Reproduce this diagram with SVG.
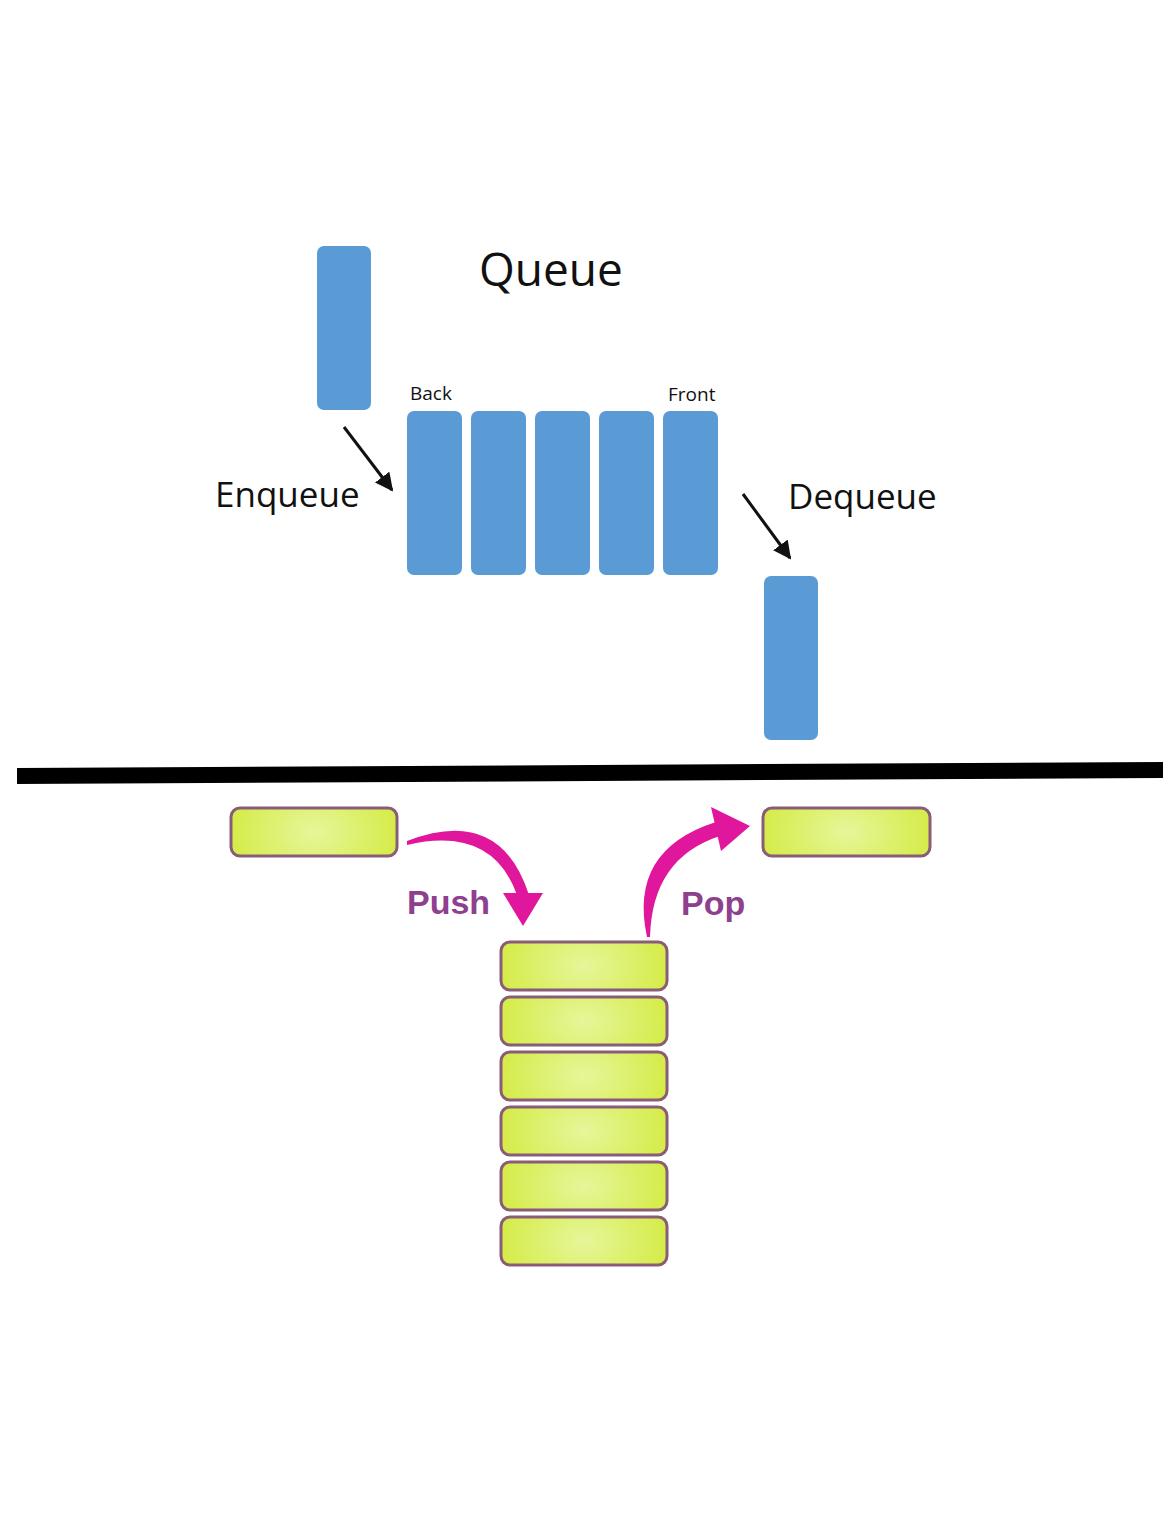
<svg xmlns="http://www.w3.org/2000/svg" width="1164" height="1536" viewBox="0 0 1164 1536">
<defs>
<style>
.blue{fill:#5b9bd5}
.lbl{font-family:"Open Sans","Liberation Sans",sans-serif;fill:#111}
.green{fill:url(#gg);stroke:#8a5c78;stroke-width:3}
.pp{font-family:"Liberation Sans",Arial,sans-serif;font-weight:bold;fill:#8e3f8e;font-size:34px}
.mag{fill:#e0169c}
</style>
<radialGradient id="gg" cx="0.5" cy="0.5" r="0.6" gradientTransform="translate(0.5 0.5) scale(1 2.5) translate(-0.5 -0.5)">
<stop offset="0" stop-color="#e6f69a"/>
<stop offset="1" stop-color="#d2ea3a"/>
</radialGradient>
<marker id="ah" viewBox="0 0 10 10" refX="9" refY="5" markerWidth="6" markerHeight="6" orient="auto">
<path d="M0,0 L10,5 L0,10 z" fill="#111"/>
</marker>
</defs>
<rect width="1164" height="1536" fill="#fff"/>

<g id="queue-title"><text class="lbl" x="479" y="286" font-size="46">Queue</text></g>
<g id="incoming"><rect class="blue" x="317" y="246" width="54" height="164" rx="7"/></g>
<g id="q1"><rect class="blue" x="407" y="411" width="55" height="164" rx="7"/><text class="lbl" x="410" y="400" font-size="19">Back</text></g>
<g id="q2"><rect class="blue" x="471" y="411" width="55" height="164" rx="7"/></g>
<g id="q3"><rect class="blue" x="535" y="411" width="55" height="164" rx="7"/></g>
<g id="q4"><rect class="blue" x="599" y="411" width="55" height="164" rx="7"/></g>
<g id="q5"><rect class="blue" x="663" y="411" width="55" height="164" rx="7"/><text class="lbl" x="668" y="401" font-size="19">Front</text></g>
<g id="outgoing"><rect class="blue" x="764" y="576" width="54" height="164" rx="7"/></g>
<g id="enqueue-label"><text class="lbl" x="215" y="507" font-size="35">Enqueue</text></g>
<g id="dequeue-label"><text class="lbl" x="788" y="509" font-size="35">Dequeue</text></g>

<g id="divider"><polygon points="17,768 1163,762 1163,778 17,784" fill="#000"/></g>

<g id="push-item"><rect class="green" x="231" y="808" width="166" height="48" rx="9"/></g>
<g id="pop-item"><rect class="green" x="763" y="808" width="167" height="48" rx="9"/></g>
<g id="stack">
<rect class="green" x="501" y="942" width="166" height="48" rx="9"/>
<rect class="green" x="501" y="997" width="166" height="48" rx="9"/>
<rect class="green" x="501" y="1052" width="166" height="48" rx="9"/>
<rect class="green" x="501" y="1107" width="166" height="48" rx="9"/>
<rect class="green" x="501" y="1162" width="166" height="48" rx="9"/>
<rect class="green" x="501" y="1217" width="166" height="48" rx="9"/>
</g>
<g id="push-label"><text class="pp" x="407" y="914">Push</text></g>
<g id="pop-label"><text class="pp" x="681" y="915">Pop</text></g>

<g id="connectors">
<line x1="344" y1="427" x2="392" y2="490" stroke="#111" stroke-width="3" marker-end="url(#ah)"/>
<line x1="743" y1="494" x2="790" y2="558" stroke="#111" stroke-width="3" marker-end="url(#ah)"/>
<path class="mag" d="M407,841 Q500,805 529,895 L517,895 Q492,825 407,845 Z"/>
<polygon class="mag" points="503,893 543,893 523,926"/>
<path class="mag" d="M647,937 Q628,850 716,822 L720,836 Q652,858 650,937 Z"/>
<polygon class="mag" points="711,807 750,826 721,851"/>
</g>
</svg>
